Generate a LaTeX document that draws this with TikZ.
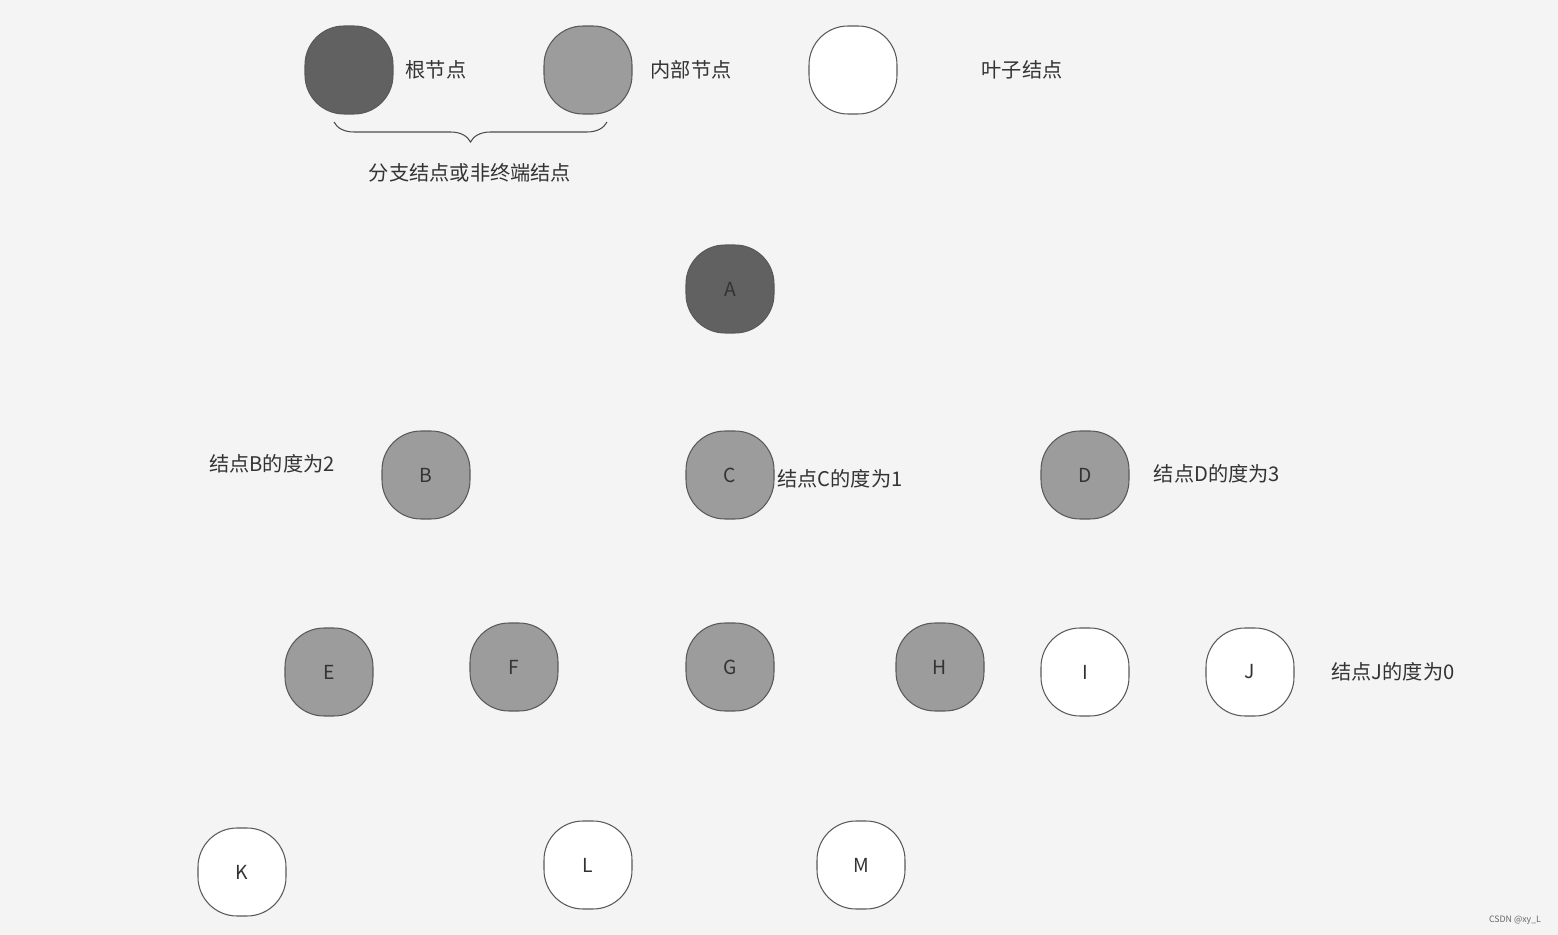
\documentclass[tikz,border=0pt]{standalone}
\usepackage{fontspec}
\setmainfont{Noto Sans CJK SC}
\usetikzlibrary{backgrounds,decorations.pathreplacing}
\begin{document}
\begin{tikzpicture}[x=0.02cm,y=-0.02cm,
  nd/.style={draw=black!65,line width=0.6pt,rectangle,rounded corners=0.78cm,minimum size=1.76cm,inner sep=0pt,font=\fontsize{11}{11}\selectfont,text=black!80},
  root/.style={nd,fill=black!62},
  inner/.style={nd,fill=black!39},
  leaf/.style={nd,fill=white},
  lbl/.style={font=\fontsize{11.5}{12}\selectfont,text=black!80},
  edge/.style={draw=black!60,line width=0.6pt}]
\fill[black!4.5] (0,0) rectangle (1558,935);
\useasboundingbox (0,0) rectangle (1558,935);
\node[root] (lr) at (349,70) {};
\node[inner] (li) at (588,70) {};
\node[leaf] (ll) at (853,70) {};
\node[lbl] (t1) at (436,70) {根节点};
\node[lbl] (t2) at (691,70) {内部节点};
\node[lbl] (t3) at (1022,70) {叶子结点};
\coordinate (b1) at (334,122);
\coordinate (b2) at (607,122);
\draw[black!70,line width=0.6pt,decorate,decoration={brace,mirror,amplitude=0.4cm}] (b1) -- (b2);
\node[lbl] (t4) at (470,173) {分支结点或非终端结点};
\node[root] (A) at (730,289) {A};
\node[inner] (B) at (426,475) {B};
\node[inner] (C) at (730,475) {C};
\node[inner] (D) at (1085,475) {D};
\node[inner] (E) at (329,672) {E};
\node[inner] (F) at (514,667) {F};
\node[inner] (G) at (730,667) {G};
\node[inner] (H) at (940,667) {H};
\node[leaf] (I) at (1085,672) {I};
\node[leaf] (J) at (1250,672) {J};
\node[leaf] (K) at (242,872) {K};
\node[leaf] (L) at (588,865) {L};
\node[leaf] (M) at (861,865) {M};
\begin{pgfonlayer}{background}
\foreach \a/\b in {A/B,A/C,A/D,B/E,B/F,C/G,D/H,D/I,D/J,E/K,F/L,H/M}
  \draw[edge] (\a.center) -- (\b.center);
\end{pgfonlayer}
\node[lbl] (tb) at (272,464) {结点B的度为2};
\node[lbl] (tc) at (840,479) {结点C的度为1};
\node[lbl] (td) at (1217,474) {结点D的度为3};
\node[lbl] (tj) at (1393,672) {结点J的度为0};
\node[font=\fontsize{5}{5}\selectfont,text=black!60] (cs) at (1515,920) {CSDN @xy\_L};
\end{tikzpicture}
\end{document}
